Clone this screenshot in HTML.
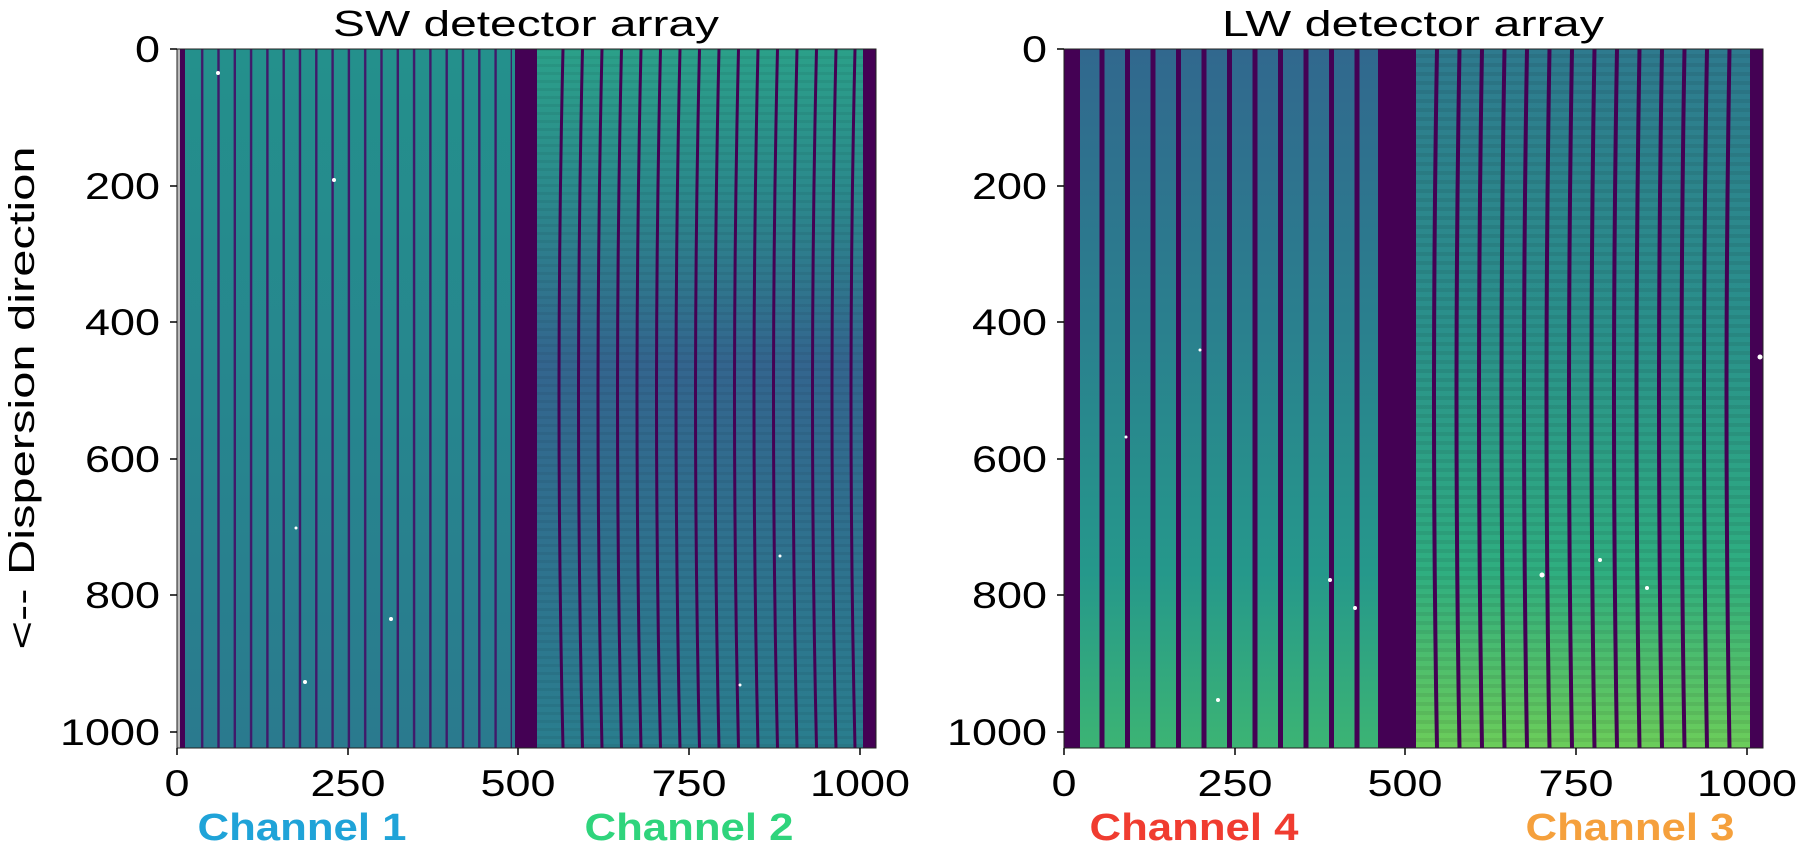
<!DOCTYPE html>
<html><head><meta charset="utf-8"><style>
html,body{margin:0;padding:0;background:#fff}
svg{display:block}
text{font-family:"Liberation Sans",sans-serif;fill:#000}
</style></head><body>
<svg width="1800" height="848" viewBox="0 0 1800 848" xmlns="http://www.w3.org/2000/svg">
<defs>
<linearGradient id="g1" x1="0" y1="0" x2="0" y2="1">
<stop offset="0" stop-color="#24908c"/><stop offset="0.5" stop-color="#26868e"/><stop offset="1" stop-color="#2a7a8e"/></linearGradient>
<linearGradient id="g2" x1="0" y1="0" x2="0" y2="1">
<stop offset="0" stop-color="#2ba089"/><stop offset="0.2" stop-color="#2b8a8c"/><stop offset="0.45" stop-color="#33658e"/><stop offset="0.7" stop-color="#2f718e"/><stop offset="1" stop-color="#2a7e8e"/></linearGradient>
<linearGradient id="g4" x1="0" y1="0" x2="0" y2="1">
<stop offset="0" stop-color="#31688e"/><stop offset="0.4" stop-color="#2a808e"/><stop offset="0.75" stop-color="#25988b"/><stop offset="1" stop-color="#3cb474"/></linearGradient>
<linearGradient id="g3" x1="0" y1="0" x2="0" y2="1">
<stop offset="0" stop-color="#2e7a8e"/><stop offset="0.4" stop-color="#2a908b"/><stop offset="0.75" stop-color="#2fae80"/><stop offset="1" stop-color="#6ccd5a"/></linearGradient>
<pattern id="p1" x="194" y="0" width="16.3" height="10" patternUnits="userSpaceOnUse">
<rect x="7" y="0" width="2.4" height="10" fill="#40196a"/></pattern>
<pattern id="p4" x="1089" y="0" width="25.5" height="10" patternUnits="userSpaceOnUse">
<rect x="10.5" y="0" width="5" height="10" fill="#440154"/></pattern>
<pattern id="fr" x="0" y="0" width="10" height="8" patternUnits="userSpaceOnUse">
<rect x="0" y="0" width="10" height="3" fill="#000" opacity="0.06"/></pattern>
<pattern id="fr3" x="0" y="0" width="10" height="9" patternUnits="userSpaceOnUse">
<rect x="0" y="0" width="10" height="4" fill="#000" opacity="0.07"/></pattern>
</defs>

<!-- LEFT PANEL -->
<rect x="177" y="49" width="699" height="699" fill="url(#g1)"/>
<rect x="516" y="49" width="360" height="699" fill="url(#g2)"/>
<rect x="516" y="49" width="360" height="699" fill="url(#fr)"/>
<rect x="194" y="49" width="318" height="699" fill="url(#p1)"/>
<rect x="177" y="49" width="8" height="699" fill="#440154"/>
<rect x="177" y="49" width="3" height="699" fill="#bbb"/>
<rect x="515" y="49" width="22" height="699" fill="#440154"/>
<rect x="863" y="49" width="13" height="699" fill="#440154"/>
<g stroke="#440154" stroke-width="3" fill="none">
<path d="M563 49 Q555 398 563 748"/><path d="M582.5 49 Q574.5 398 582.5 748"/><path d="M602 49 Q594 398 602 748"/><path d="M621.5 49 Q613.5 398 621.5 748"/><path d="M641 49 Q633 398 641 748"/><path d="M660.5 49 Q652.5 398 660.5 748"/><path d="M680 49 Q672 398 680 748"/><path d="M699.5 49 Q691.5 398 699.5 748"/><path d="M719 49 Q711 398 719 748"/><path d="M738.5 49 Q730.5 398 738.5 748"/><path d="M758 49 Q750 398 758 748"/><path d="M777.5 49 Q769.5 398 777.5 748"/><path d="M797 49 Q789 398 797 748"/><path d="M816.5 49 Q808.5 398 816.5 748"/><path d="M836 49 Q828 398 836 748"/><path d="M855 49 Q847 398 855 748"/>
</g>
<g fill="#fff"><circle cx="218" cy="73" r="2"/><circle cx="334" cy="180" r="2"/><circle cx="391" cy="619" r="2"/><circle cx="305" cy="682" r="2"/><circle cx="296" cy="528" r="1.5"/><circle cx="780" cy="556" r="1.5"/><circle cx="740" cy="685" r="1.5"/></g>
<rect x="177" y="49" width="699" height="699" fill="none" stroke="#222" stroke-width="1"/>

<!-- RIGHT PANEL -->
<rect x="1064" y="49" width="699" height="699" fill="url(#g4)"/>
<rect x="1416" y="49" width="347" height="699" fill="url(#g3)"/>
<rect x="1416" y="49" width="347" height="699" fill="url(#fr3)"/>
<rect x="1089" y="49" width="290" height="699" fill="url(#p4)"/>
<rect x="1064" y="49" width="16" height="699" fill="#440154"/>
<rect x="1378" y="49" width="38" height="699" fill="#440154"/>
<rect x="1750" y="49" width="13" height="699" fill="#440154"/>
<g stroke="#440154" stroke-width="4" fill="none">
<path d="M1437 49 Q1431 398 1437 748"/><path d="M1459.5 49 Q1453.5 398 1459.5 748"/><path d="M1482 49 Q1476 398 1482 748"/><path d="M1504.5 49 Q1498.5 398 1504.5 748"/><path d="M1527 49 Q1521 398 1527 748"/><path d="M1549.5 49 Q1543.5 398 1549.5 748"/><path d="M1572 49 Q1566 398 1572 748"/><path d="M1594.5 49 Q1588.5 398 1594.5 748"/><path d="M1617 49 Q1611 398 1617 748"/><path d="M1639.5 49 Q1633.5 398 1639.5 748"/><path d="M1662 49 Q1656 398 1662 748"/><path d="M1684.5 49 Q1678.5 398 1684.5 748"/><path d="M1707 49 Q1701 398 1707 748"/><path d="M1729.5 49 Q1723.5 398 1729.5 748"/>
</g>
<g fill="#fff"><circle cx="1200" cy="350" r="1.5"/><circle cx="1126" cy="437" r="1.5"/><circle cx="1330" cy="580" r="2"/><circle cx="1355" cy="608" r="2"/><circle cx="1218" cy="700" r="2"/><circle cx="1542" cy="575" r="2.5"/><circle cx="1600" cy="560" r="2"/><circle cx="1647" cy="588" r="2"/><circle cx="1760" cy="357" r="2.5"/></g>
<rect x="1064" y="49" width="699" height="699" fill="none" stroke="#222" stroke-width="1"/>

<!-- Titles -->
<text x="526" y="36" font-size="36" text-anchor="middle" textLength="386" lengthAdjust="spacingAndGlyphs">SW detector array</text>
<text x="1413" y="36" font-size="36" text-anchor="middle" textLength="382" lengthAdjust="spacingAndGlyphs">LW detector array</text>

<!-- Y label -->
<text transform="translate(34,398) rotate(-90)" font-size="36" text-anchor="middle" textLength="503" lengthAdjust="spacingAndGlyphs">&lt;-- Dispersion direction</text>

<!-- ticks -->
<g stroke="#000" stroke-width="1.5">
<line x1="170" y1="49" x2="177" y2="49"/><line x1="170" y1="186" x2="177" y2="186"/><line x1="170" y1="322" x2="177" y2="322"/><line x1="170" y1="459" x2="177" y2="459"/><line x1="170" y1="595" x2="177" y2="595"/><line x1="170" y1="732" x2="177" y2="732"/>
<line x1="177" y1="748" x2="177" y2="755"/><line x1="348" y1="748" x2="348" y2="755"/><line x1="518" y1="748" x2="518" y2="755"/><line x1="689" y1="748" x2="689" y2="755"/><line x1="860" y1="748" x2="860" y2="755"/>
<line x1="1057" y1="49" x2="1064" y2="49"/><line x1="1057" y1="186" x2="1064" y2="186"/><line x1="1057" y1="322" x2="1064" y2="322"/><line x1="1057" y1="459" x2="1064" y2="459"/><line x1="1057" y1="595" x2="1064" y2="595"/><line x1="1057" y1="732" x2="1064" y2="732"/>
<line x1="1064" y1="748" x2="1064" y2="755"/><line x1="1235" y1="748" x2="1235" y2="755"/><line x1="1405" y1="748" x2="1405" y2="755"/><line x1="1576" y1="748" x2="1576" y2="755"/><line x1="1747" y1="748" x2="1747" y2="755"/>
</g>
<g font-size="37" text-anchor="end">
<text x="160" y="62" textLength="25" lengthAdjust="spacingAndGlyphs">0</text>
<text x="160" y="199" textLength="75" lengthAdjust="spacingAndGlyphs">200</text>
<text x="160" y="335" textLength="75" lengthAdjust="spacingAndGlyphs">400</text>
<text x="160" y="472" textLength="75" lengthAdjust="spacingAndGlyphs">600</text>
<text x="160" y="608" textLength="75" lengthAdjust="spacingAndGlyphs">800</text>
<text x="160" y="745" textLength="100" lengthAdjust="spacingAndGlyphs">1000</text>
<text x="1047" y="62" textLength="25" lengthAdjust="spacingAndGlyphs">0</text>
<text x="1047" y="199" textLength="75" lengthAdjust="spacingAndGlyphs">200</text>
<text x="1047" y="335" textLength="75" lengthAdjust="spacingAndGlyphs">400</text>
<text x="1047" y="472" textLength="75" lengthAdjust="spacingAndGlyphs">600</text>
<text x="1047" y="608" textLength="75" lengthAdjust="spacingAndGlyphs">800</text>
<text x="1047" y="745" textLength="100" lengthAdjust="spacingAndGlyphs">1000</text>
</g>
<g font-size="37" text-anchor="middle">
<text x="177" y="796" textLength="25" lengthAdjust="spacingAndGlyphs">0</text>
<text x="348" y="796" textLength="75" lengthAdjust="spacingAndGlyphs">250</text>
<text x="518" y="796" textLength="75" lengthAdjust="spacingAndGlyphs">500</text>
<text x="689" y="796" textLength="75" lengthAdjust="spacingAndGlyphs">750</text>
<text x="860" y="796" textLength="100" lengthAdjust="spacingAndGlyphs">1000</text>
<text x="1064" y="796" textLength="25" lengthAdjust="spacingAndGlyphs">0</text>
<text x="1235" y="796" textLength="75" lengthAdjust="spacingAndGlyphs">250</text>
<text x="1405" y="796" textLength="75" lengthAdjust="spacingAndGlyphs">500</text>
<text x="1576" y="796" textLength="75" lengthAdjust="spacingAndGlyphs">750</text>
<text x="1747" y="796" textLength="100" lengthAdjust="spacingAndGlyphs">1000</text>
</g>

<!-- Channel labels -->
<g font-size="38" font-weight="bold" text-anchor="middle">
<text x="302" y="840" style="fill:#1fa3d8" textLength="209" lengthAdjust="spacingAndGlyphs">Channel 1</text>
<text x="689" y="840" style="fill:#2fd47c" textLength="209" lengthAdjust="spacingAndGlyphs">Channel 2</text>
<text x="1194" y="840" style="fill:#f03c30" textLength="209" lengthAdjust="spacingAndGlyphs">Channel 4</text>
<text x="1630" y="840" style="fill:#f5a03c" textLength="209" lengthAdjust="spacingAndGlyphs">Channel 3</text>
</g>
</svg>
</body></html>
